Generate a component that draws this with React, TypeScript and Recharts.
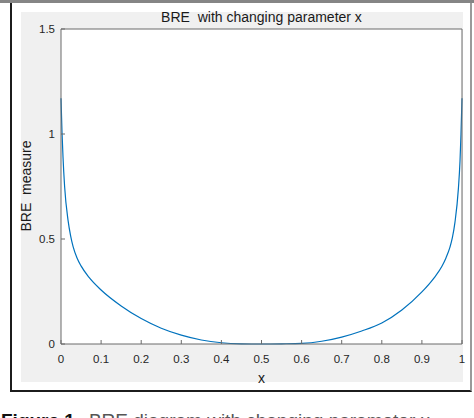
import { LineChart, Line, XAxis, YAxis, CartesianGrid } from 'recharts'

// x positions and BRE values
const xValues = [
  0, 0.0025, 0.005, 0.009, 0.0175, 0.024, 0.03, 0.04, 0.05, 0.07, 0.1, 0.15, 0.2, 0.25, 0.3, 0.35, 0.4,
  0.45, 0.5, 0.55, 0.6, 0.65, 0.7, 0.75, 0.8, 0.85, 0.9, 0.93, 0.95, 0.96, 0.97, 0.976, 0.9825, 0.991,
  0.995, 0.9975, 1,
]
const breValues = [
  1.17, 1.01, 0.89, 0.75, 0.59, 0.515, 0.465, 0.41, 0.372, 0.317, 0.257, 0.181, 0.121, 0.075, 0.042, 0.019, 0.006,
  0.001, 0, 0.001, 0.003, 0.013, 0.033, 0.062, 0.1, 0.162, 0.248, 0.314, 0.37, 0.41, 0.461, 0.506, 0.58, 0.74,
  0.87, 1.0, 1.17,
]
const xTicks = [0, 0.1, 0.2, 0.3, 0.4, 0.5, 0.6, 0.7, 0.8, 0.9, 1]
const yTicks = [0, 0.5, 1, 1.5]

const TITLE = 'BRE\u00a0 with changing parameter x'
const X_LABEL = 'x'
const Y_LABEL = 'BRE\u00a0 measure'
const CAPTION_BOLD = 'Figure 1'
const CAPTION_TEXT = 'BRE diagram with changing parameter x'

const data = xValues.map((x, i) => ({ x, bre: breValues[i] }))

const AXIS = '#6b6b6b'
const TEXT = '#262626'
const FONT = '"Liberation Sans", Arial, sans-serif'

const XTick = ({ x, y, payload }: any) => (
  <g>
    <line x1={x} x2={x} y1={y - 15} y2={y - 19} stroke={AXIS} />
    <text x={x} y={y} dy="0.35em" textAnchor="middle" fontSize={11.5} fill={TEXT} fontFamily={FONT}>
      {String(payload.value)}
    </text>
  </g>
)

const YTick = ({ x, y, payload }: any) => (
  <g>
    <line x1={x + 6} x2={x + 10} y1={y} y2={y} stroke={AXIS} />
    <text x={x} y={y} dy="0.35em" textAnchor="end" fontSize={11.5} fill={TEXT} fontFamily={FONT}>
      {String(payload.value)}
    </text>
  </g>
)

export default function App() {
  return (
    <div style={{ position: 'absolute', left: 0, top: 0, width: 474, height: 418, overflow: 'hidden', background: '#fff', fontFamily: FONT }}>
      <div style={{ position: 'absolute', left: 0, top: 0, width: 474, height: 3, background: '#858585' }} />
      <div
        style={{
          position: 'absolute', left: 10, top: 3, width: 458, height: 387,
          borderLeft: '2px solid #1c1c1c', borderBottom: '2px solid #1c1c1c', borderRight: '2px solid #9a9a9a',
        }}
      />
      <div style={{ position: 'absolute', left: 21, top: 12, width: 442, height: 370, background: '#f0f0f0' }} />

      <div style={{ position: 'absolute', left: 0, top: 0 }}>
        <LineChart width={474} height={418} data={data} margin={{ top: 29, right: 12, left: 0, bottom: 44 }}>
          <CartesianGrid horizontal={false} vertical={false} fill="#ffffff" />
          <XAxis
            dataKey="x" type="number" domain={[0, 1]} ticks={xTicks} height={30}
            tickSize={0} tickMargin={15} tick={<XTick />} stroke={AXIS} axisLine={{ stroke: AXIS }}
          />
          <XAxis
            xAxisId="top" orientation="top" mirror dataKey="x" type="number" domain={[0, 1]} ticks={xTicks}
            height={1} tick={false} tickSize={4} stroke={AXIS}
          />
          <YAxis
            type="number" domain={[0, 1.5]} ticks={yTicks} width={61}
            tickSize={0} tickMargin={6} tick={<YTick />} stroke={AXIS}
          />
          <YAxis
            yAxisId="right" orientation="right" mirror type="number" domain={[0, 1.5]} ticks={yTicks}
            allowDataOverflow width={1} tick={false} tickSize={4} stroke={AXIS}
          />
          <Line type="monotone" dataKey="bre" stroke="#0072BD" strokeWidth={1.2} dot={false} isAnimationActive={false} />
        </LineChart>
      </div>

      <div style={{ position: 'absolute', left: 0, width: 474, top: 9, textAlign: 'center', fontSize: 14, color: '#1a1a1a', paddingLeft: 49, boxSizing: 'border-box' }}>
        {TITLE}
      </div>
      <div style={{ position: 'absolute', left: 61, width: 401, top: 370, textAlign: 'center', fontSize: 14, color: '#1a1a1a' }}>
        {X_LABEL}
      </div>
      <div
        style={{
          position: 'absolute', left: 26, top: 186, width: 120, marginLeft: -60, marginTop: -9, lineHeight: '18px',
          textAlign: 'center', fontSize: 14, color: '#1a1a1a', transform: 'rotate(-90deg)',
        }}
      >
        {Y_LABEL}
      </div>
      <div style={{ position: 'absolute', left: 1, top: 410, fontSize: 19, lineHeight: '22px', whiteSpace: 'nowrap' }}>
        <b style={{ color: '#111' }}>{CAPTION_BOLD}</b>
        <span style={{ color: '#555', marginLeft: 14 }}>{CAPTION_TEXT}</span>
      </div>
    </div>
  )
}
